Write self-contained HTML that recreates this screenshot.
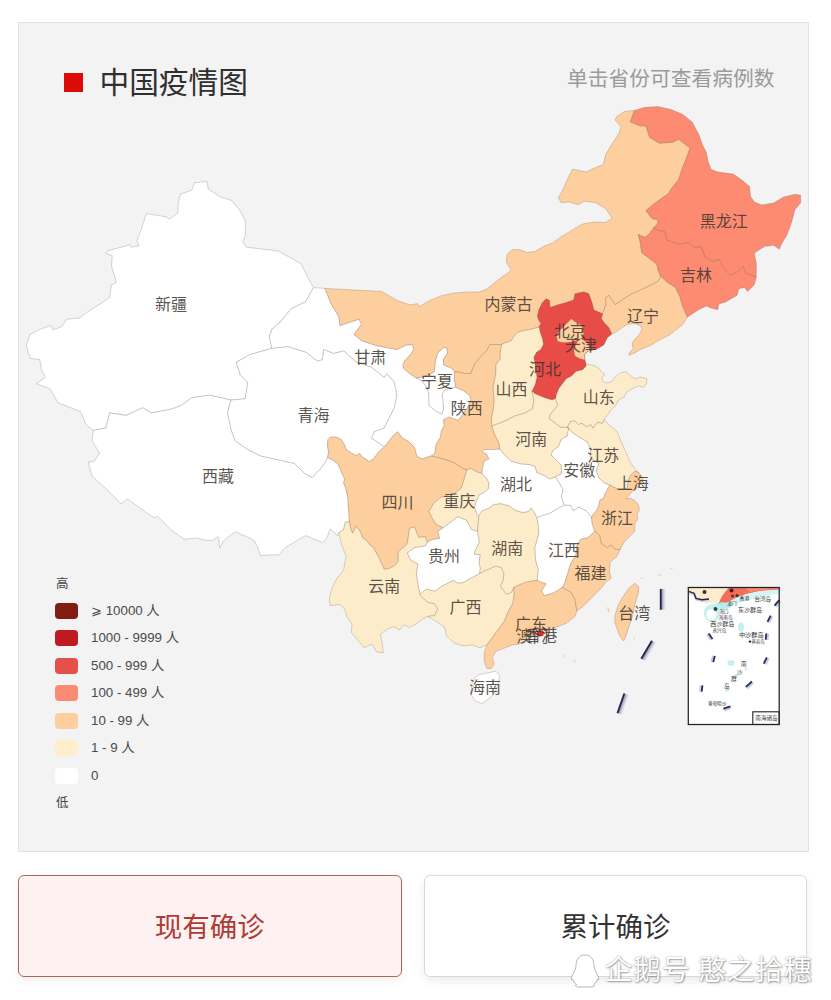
<!DOCTYPE html>
<html lang="zh-CN">
<head>
<meta charset="utf-8">
<title>中国疫情图</title>
<style>
html,body{margin:0;padding:0;background:#fff;}
body{width:831px;height:1000px;position:relative;overflow:hidden;font-family:"Liberation Sans","Noto Sans CJK SC",sans-serif;color:#333;}
.card{position:absolute;left:18px;top:22px;width:789px;height:827.5px;background:#f3f3f3;border:1.2px solid #e2e2e2;box-sizing:content-box;}
.sq{position:absolute;left:64px;top:73px;width:19px;height:18.5px;background:#dd0a0a;}
.title{position:absolute;left:99.5px;top:63px;font-size:29.7px;line-height:40px;color:#2f2f2f;letter-spacing:0;white-space:nowrap;}
.sub{position:absolute;left:567px;top:64px;font-size:20.75px;line-height:30px;color:#9a9a9a;white-space:nowrap;}
svg.map{position:absolute;left:0;top:0;width:831px;height:1000px;}
svg.map .prov path{stroke:rgba(85,55,35,0.3);stroke-width:0.7;stroke-linejoin:round;}
svg.map .lab text{font-family:"Liberation Sans","Noto Sans CJK SC",sans-serif;font-size:16px;fill:#3d3630;fill-opacity:0.86;text-anchor:middle;dominant-baseline:central;}
.legend{position:absolute;left:55px;top:575.3px;font-size:13.5px;color:#444;}
.legend .hl{position:absolute;left:1px;font-size:12.5px;line-height:16px;color:#444;white-space:nowrap;}
.legend .row{position:absolute;left:0;height:16px;white-space:nowrap;}
.legend .sw{position:absolute;left:0;top:0;width:23px;height:16px;border-radius:4px;}
.legend .tx{position:absolute;left:36px;top:-2px;line-height:20px;font-size:13.3px;color:#4a4a4a;}
.btn{position:absolute;top:875px;height:99.5px;border-radius:6px;box-sizing:content-box;text-align:center;font-size:27.5px;line-height:103.5px;}
.b1{left:18px;width:381.5px;border:1px solid #ab675c;background:#fdf2f1;color:#b03a33;box-shadow:0 4px 10px rgba(0,0,0,0.06);}
.b2{left:424.3px;width:380.5px;border:1px solid #d9d9d9;background:#fff;color:#333;box-shadow:0 4px 10px rgba(0,0,0,0.08);}
.wm{position:absolute;left:604.5px;top:952.7px;font-size:28px;line-height:36px;color:#fff;white-space:nowrap;text-shadow:0 0 1.5px rgba(0,0,0,0.42),1px 1px 2px rgba(0,0,0,0.32);letter-spacing:0.5px;}
</style>
</head>
<body>
<div class="card"></div>
<div class="sq"></div>
<div class="title">中国疫情图</div>
<div class="sub">单击省份可查看病例数</div>

<svg class="map" viewBox="0 0 831 1000">
<g class="prov">
<path d="M93.3 430.5 L85.7 424.2 L80.7 411.6 L57.9 402.7 L50.3 388.8 L36.4 383.7 L45.3 377.3 L41.5 369.8 L39.7 359.6 L30.1 358.4 L26.3 345.7 L30.1 334.4 L40.2 329.3 L50.8 325.5 L52.9 329.8 L61.7 326.8 L66.8 319.2 L79.4 318.0 L88.2 311.6 L109.7 297.7 L111.5 285.1 L116.0 282.6 L115.5 278.8 L111.5 266.1 L112.2 255.5 L105.9 253.5 L107.2 251.0 L130.0 244.7 L131.2 247.2 L139.3 245.9 L136.8 240.9 L140.8 230.8 L146.4 213.6 L166.6 216.9 L169.1 219.4 L178.0 213.0 L178.0 204.2 L180.5 194.1 L191.8 190.3 L194.4 182.7 L207.0 181.5 L208.3 189.0 L219.6 196.6 L231.4 200.4 L239.0 209.3 L245.3 220.7 L245.3 235.8 L242.7 242.1 L246.5 247.2 L278.1 251.0 L300.9 263.6 L308.5 278.8 L313.5 287.6 L305.9 301.5 L290.8 309.1 L280.7 321.7 L271.8 329.3 L269.3 336.9 L271.8 348.3 L250.3 354.6 L236.4 362.2 L240.2 374.8 L247.8 382.4 L245.3 398.8 L231.0 400.0 L220.0 397.5 L209.5 395.2 L191.8 397.7 L181.7 405.3 L171.6 409.1 L151.4 412.9 L142.6 407.8 L126.1 415.4 L109.7 412.9 L105.9 428.0Z" fill="#ffffff"/>
<path d="M93.3 430.5 L105.9 428.0 L109.7 412.9 L126.1 415.4 L142.6 407.8 L151.4 412.9 L171.6 409.1 L181.7 405.3 L191.8 397.7 L209.5 395.2 L220.0 397.5 L231.0 400.0 L227.6 412.9 L231.4 430.5 L235.2 440.7 L247.8 449.5 L260.4 455.8 L283.2 460.9 L294.6 463.4 L304.7 473.5 L312.2 477.3 L314.8 474.4 L319.6 469.6 L324.4 463.6 L327.6 457.5 L332.8 460.0 L337.6 463.6 L340.0 468.4 L342.4 474.4 L344.8 479.2 L343.6 482.8 L346.0 488.8 L347.8 497.2 L348.4 506.8 L349.0 514.0 L349.3 521.8 L345.4 522.2 L343.6 529.6 L338.8 532.9 L337.5 535.8 L334.8 532.7 L330.0 528.9 L327.1 537.5 L322.3 542.4 L315.5 539.5 L305.9 535.6 L300.1 538.5 L292.4 543.3 L284.7 548.1 L278.9 554.9 L267.4 554.9 L260.6 555.8 L257.8 548.1 L254.9 541.4 L249.1 537.5 L241.4 534.7 L236.6 531.8 L230.8 534.7 L223.1 541.4 L219.8 548.1 L218.3 536.6 L212.0 540.5 L204.0 540.0 L196.9 537.9 L184.3 539.2 L171.6 530.4 L157.7 516.5 L153.9 517.7 L141.3 508.9 L127.4 498.8 L121.1 503.8 L105.9 488.7 L92.0 476.0 L88.2 462.1 L94.6 460.9 L99.6 453.3 L92.0 440.7Z" fill="#ffffff"/>
<path d="M231.0 400.0 L245.3 398.8 L247.8 382.4 L240.2 374.8 L236.4 362.2 L250.3 354.6 L271.8 348.3 L288.2 346.5 L305.9 352.1 L317.3 360.9 L322.3 359.6 L323.6 349.5 L333.7 353.3 L343.8 350.8 L356.5 362.2 L371.6 367.2 L384.3 377.3 L386.8 373.5 L394.4 382.0 L396.9 395.2 L394.4 407.8 L388.1 420.4 L384.3 428.0 L374.2 431.8 L371.6 438.1 L379.2 443.2 L384.3 447.0 L383.2 448.0 L379.6 451.0 L377.2 454.0 L373.6 458.8 L368.8 461.8 L366.4 459.4 L362.8 457.6 L359.2 453.4 L356.8 455.8 L350.8 452.8 L346.0 449.2 L344.2 444.4 L341.2 439.6 L336.4 437.2 L330.4 437.2 L328.0 439.6 L327.4 445.6 L328.6 451.6 L327.6 457.5 L324.4 463.6 L319.6 469.6 L314.8 474.4 L312.2 477.3 L304.7 473.5 L294.6 463.4 L283.2 460.9 L260.4 455.8 L247.8 449.5 L235.2 440.7 L231.4 430.5 L227.6 412.9Z" fill="#ffffff"/>
<path d="M313.5 287.6 L324.9 288.4 L331.2 304.0 L338.8 316.7 L340.0 325.5 L351.4 321.7 L359.0 319.2 L361.5 324.3 L353.9 334.4 L361.5 340.7 L376.7 345.7 L396.9 349.5 L405.8 345.2 L412.3 344.5 L413.8 348.8 L411.6 353.2 L405.1 360.4 L402.9 364.8 L403.6 368.4 L408.7 372.8 L415.9 377.8 L421.0 380.0 L427.5 388.0 L429.0 395.2 L429.0 405.4 L436.2 411.2 L442.0 414.0 L443.5 409.0 L442.7 399.6 L442.0 394.0 L445.0 389.5 L455.8 387.2 L463.8 390.9 L469.6 395.2 L471.0 399.6 L468.1 406.8 L460.9 417.0 L458.0 420.6 L449.3 417.0 L443.5 419.9 L444.2 425.7 L441.3 431.4 L440.6 437.2 L436.2 444.5 L434.8 453.2 L431.2 456.1 L421.7 459.0 L416.7 456.1 L414.5 447.4 L408.7 441.6 L402.0 437.8 L397.6 431.8 L392.8 436.0 L388.8 441.5 L384.3 447.0 L379.2 443.2 L371.6 438.1 L374.2 431.8 L384.3 428.0 L388.1 420.4 L394.4 407.8 L396.9 395.2 L394.4 382.0 L386.8 373.5 L384.3 377.3 L371.6 367.2 L356.5 362.2 L343.8 350.8 L333.7 353.3 L323.6 349.5 L322.3 359.6 L317.3 360.9 L305.9 352.1 L288.2 346.5 L271.8 348.3 L269.3 336.9 L271.8 329.3 L280.7 321.7 L290.8 309.1 L305.9 301.5Z" fill="#ffffff"/>
<path d="M415.9 377.8 L421.7 377.1 L429.0 374.9 L434.1 372.0 L435.5 360.4 L437.7 353.2 L443.5 347.4 L447.1 348.1 L447.5 353.2 L443.5 359.0 L443.5 364.8 L450.7 367.7 L454.8 372.0 L454.3 377.8 L455.8 387.2 L445.0 389.5 L442.0 394.0 L442.7 399.6 L443.5 409.0 L442.0 414.0 L436.2 411.2 L429.0 405.4 L429.0 395.2 L427.5 388.0 L421.0 380.0Z" fill="#ffffff"/>
<path d="M324.9 288.4 L356.5 290.1 L381.7 291.4 L396.9 300.3 L410.0 305.0 L417.7 303.6 L419.6 306.5 L429.3 300.7 L440.8 295.9 L454.3 293.0 L467.8 292.0 L479.3 292.0 L487.0 289.1 L494.7 282.4 L502.4 276.6 L508.2 272.8 L511.1 269.9 L506.3 262.2 L507.2 254.5 L512.0 249.7 L519.7 249.7 L527.4 252.5 L535.1 251.6 L544.8 245.8 L552.5 242.9 L562.1 236.2 L572.7 229.8 L582.4 224.0 L593.9 222.1 L605.5 222.4 L612.2 218.2 L605.5 208.6 L595.8 202.8 L584.3 201.2 L578.5 204.7 L568.9 201.9 L561.2 202.8 L558.3 198.0 L563.1 189.3 L568.9 175.9 L572.7 169.1 L586.2 172.0 L590.1 170.1 L603.5 164.3 L605.5 154.7 L611.2 145.1 L618.9 133.5 L620.9 126.8 L615.1 120.0 L617.0 116.2 L624.7 111.4 L634.3 110.4 L630.5 122.0 L640.1 125.8 L645.9 125.8 L649.7 137.4 L659.4 143.1 L672.8 142.2 L678.6 139.3 L690.2 147.9 L686.3 158.5 L682.5 168.2 L678.6 179.7 L670.9 189.3 L669.0 193.2 L655.5 202.8 L645.9 210.5 L651.7 218.2 L658.4 220.1 L657.4 224.0 L653.6 227.9 L649.7 233.6 L644.9 237.5 L638.2 234.6 L640.1 241.3 L641.7 252.6 L650.5 259.2 L656.9 264.3 L658.5 271.0 L660.7 276.5 L657.9 281.6 L652.1 284.4 L643.4 288.8 L633.3 293.1 L624.7 298.2 L615.3 304.7 L608.8 295.3 L605.9 297.4 L605.9 304.7 L602.5 313.8 L593.8 310.0 L591.9 302.5 L588.8 293.8 L583.8 291.9 L575.0 293.8 L573.8 300.0 L566.3 302.5 L557.5 305.0 L550.0 307.5 L549.4 300.6 L546.3 298.8 L542.5 302.5 L538.8 310.0 L537.5 316.3 L538.8 320.0 L541.0 323.6 L539.0 327.0 L532.6 329.0 L522.9 330.8 L518.1 332.0 L514.5 335.6 L510.9 341.1 L504.9 342.9 L501.4 344.5 L489.9 344.5 L487.0 350.3 L481.2 356.1 L475.4 363.3 L472.5 369.1 L471.0 373.5 L463.8 373.5 L458.0 372.0 L454.8 372.0 L450.7 367.7 L443.5 364.8 L443.5 359.0 L447.5 353.2 L447.1 348.1 L443.5 347.4 L437.7 353.2 L435.5 360.4 L434.1 372.0 L429.0 374.9 L421.7 377.1 L415.9 377.8 L408.7 372.8 L403.6 368.4 L402.9 364.8 L405.1 360.4 L411.6 353.2 L413.8 348.8 L412.3 344.5 L405.8 345.2 L396.9 349.5 L376.7 345.7 L361.5 340.7 L353.9 334.4 L361.5 324.3 L359.0 319.2 L351.4 321.7 L340.0 325.5 L338.8 316.7 L331.2 304.0Z" fill="#fdcf9f"/>
<path d="M634.3 110.4 L644.0 107.5 L657.4 106.6 L670.9 109.4 L682.5 114.3 L692.1 122.0 L698.6 134.0 L703.0 146.0 L706.2 152.0 L708.1 161.6 L711.0 169.3 L717.8 172.1 L733.2 174.1 L742.8 180.8 L749.5 186.6 L750.5 196.2 L754.3 202.0 L762.0 204.9 L773.6 202.9 L783.2 197.2 L794.8 194.3 L800.6 195.2 L800.6 202.9 L794.8 209.7 L791.9 221.2 L787.1 234.7 L781.3 244.3 L779.4 249.2 L773.6 245.3 L764.9 246.3 L754.3 253.0 L756.3 263.6 L756.3 277.1 L745.7 273.2 L742.8 266.5 L737.7 271.8 L730.1 275.6 L723.8 268.1 L718.8 259.2 L712.5 261.7 L704.9 256.7 L701.1 246.6 L694.8 247.8 L688.5 242.8 L678.3 244.0 L667.0 240.3 L664.4 231.4 L658.0 230.5 L653.6 227.9 L657.4 224.0 L658.4 220.1 L651.7 218.2 L645.9 210.5 L655.5 202.8 L669.0 193.2 L670.9 189.3 L678.6 179.7 L682.5 168.2 L686.3 158.5 L690.2 147.9 L678.6 139.3 L672.8 142.2 L659.4 143.1 L649.7 137.4 L645.9 125.8 L640.1 125.8 L630.5 122.0Z" fill="#fc8b72"/>
<path d="M653.6 227.9 L658.0 230.5 L664.4 231.4 L667.0 240.3 L678.3 244.0 L688.5 242.8 L694.8 247.8 L701.1 246.6 L704.9 256.7 L712.5 261.7 L718.8 259.2 L723.8 268.1 L730.1 275.6 L737.7 271.8 L742.8 266.5 L745.7 273.2 L756.3 277.1 L754.3 284.8 L747.6 291.5 L744.7 287.7 L738.9 288.6 L737.0 295.4 L725.5 302.1 L718.7 304.0 L717.8 309.8 L711.0 307.9 L706.2 305.9 L698.5 309.8 L687.2 317.3 L684.7 311.5 L682.4 306.1 L679.5 296.0 L675.2 287.3 L668.0 283.0 L660.7 276.5 L658.5 271.0 L656.9 264.3 L650.5 259.2 L641.7 252.6 L640.1 241.3 L638.2 234.6 L644.9 237.5 L649.7 233.6Z" fill="#fc8b72"/>
<path d="M660.7 276.5 L668.0 283.0 L675.2 287.3 L679.5 296.0 L682.4 306.1 L684.7 311.5 L687.2 317.3 L682.4 324.9 L675.2 330.6 L669.4 335.0 L660.8 339.3 L653.5 343.6 L647.8 346.5 L640.5 349.4 L634.8 353.0 L629.0 355.2 L629.7 352.3 L633.3 348.7 L631.9 343.6 L634.8 339.3 L639.1 335.0 L642.0 329.2 L640.5 325.6 L634.8 323.4 L627.5 324.2 L621.8 327.8 L616.0 332.1 L612.0 334.0 L611.3 333.0 L608.8 327.5 L605.0 323.8 L601.3 318.8 L602.5 313.8 L605.9 304.7 L605.9 297.4 L608.8 295.3 L615.3 304.7 L624.7 298.2 L633.3 293.1 L643.4 288.8 L652.1 284.4 L657.9 281.6Z" fill="#fdcf9f"/>
<path d="M539.0 327.0 L541.0 323.6 L538.8 320.0 L537.5 316.3 L538.8 310.0 L542.5 302.5 L546.3 298.8 L549.4 300.6 L550.0 307.5 L557.5 305.0 L566.3 302.5 L573.8 300.0 L575.0 293.8 L583.8 291.9 L588.8 293.8 L591.9 302.5 L593.8 310.0 L602.5 313.8 L601.3 318.8 L605.0 323.8 L608.8 327.5 L611.3 333.0 L612.0 334.0 L607.5 337.5 L603.8 345.0 L597.5 348.8 L592.5 350.0 L587.5 351.3 L584.4 355.0 L585.0 360.0 L586.0 364.0 L586.3 366.0 L582.5 370.0 L576.3 371.3 L571.3 376.3 L566.3 378.8 L562.5 383.8 L558.8 388.8 L556.3 395.0 L555.6 398.8 L551.9 400.0 L543.8 397.5 L535.0 393.8 L531.9 391.3 L535.0 385.0 L536.8 377.8 L535.6 368.1 L533.8 357.3 L536.2 352.5 L541.0 348.9 L543.4 344.1 L542.2 338.1 L540.4 333.2Z" fill="#e84c46"/>
<path d="M501.4 344.5 L504.9 342.9 L510.9 341.1 L514.5 335.6 L518.1 332.0 L522.9 330.8 L532.6 329.0 L539.0 327.0 L540.4 333.2 L542.2 338.1 L543.4 344.1 L541.0 348.9 L536.2 352.5 L533.8 357.3 L535.6 368.1 L536.8 377.8 L535.0 385.0 L531.9 391.3 L533.9 400.0 L532.5 408.7 L525.2 413.0 L515.1 415.9 L503.5 421.7 L491.9 426.1 L491.2 418.8 L493.3 408.7 L494.1 400.0 L492.8 388.0 L495.7 373.5 L495.7 364.8 L500.0 359.0 L500.0 353.2Z" fill="#fdecca"/>
<path d="M454.8 372.0 L458.0 372.0 L463.8 373.5 L471.0 373.5 L472.5 369.1 L475.4 363.3 L481.2 356.1 L487.0 350.3 L489.9 344.5 L501.4 344.5 L500.0 353.2 L500.0 359.0 L495.7 364.8 L495.7 373.5 L492.8 388.0 L494.1 400.0 L493.3 408.7 L491.2 418.8 L491.9 426.1 L494.8 434.8 L499.1 443.5 L499.9 449.3 L491.9 449.6 L484.2 449.5 L482.4 451.7 L486.6 454.1 L489.0 458.9 L484.2 461.3 L483.0 466.1 L481.8 473.3 L477.0 472.1 L471.0 468.5 L467.2 469.6 L463.8 469.1 L455.1 463.3 L447.8 460.4 L437.7 457.5 L431.2 456.1 L434.8 453.2 L436.2 444.5 L440.6 437.2 L441.3 431.4 L444.2 425.7 L443.5 419.9 L449.3 417.0 L458.0 420.6 L460.9 417.0 L468.1 406.8 L471.0 399.6 L469.6 395.2 L463.8 390.9 L455.8 387.2 L454.3 377.8Z" fill="#fdcf9f"/>
<path d="M431.2 456.1 L437.7 457.5 L447.8 460.4 L455.1 463.3 L463.8 469.1 L467.2 469.6 L466.0 473.0 L464.0 480.0 L461.4 488.1 L454.2 493.5 L441.5 497.1 L434.3 502.5 L428.9 511.5 L431.6 516.9 L436.1 524.2 L443.3 527.8 L437.9 531.4 L439.7 538.6 L432.5 539.5 L427.1 542.2 L425.3 536.8 L418.5 537.5 L414.5 527.0 L409.5 528.5 L408.1 538.6 L407.0 544.3 L398.2 551.8 L398.3 561.5 L394.1 566.0 L389.1 568.6 L384.0 569.3 L380.0 560.0 L372.9 546.8 L370.0 545.2 L366.4 540.4 L362.8 538.0 L360.4 532.0 L356.2 526.0 L352.6 533.2 L350.8 529.6 L349.3 521.8 L349.0 514.0 L348.4 506.8 L347.8 497.2 L346.0 488.8 L343.6 482.8 L344.8 479.2 L342.4 474.4 L340.0 468.4 L337.6 463.6 L332.8 460.0 L327.6 457.5 L328.6 451.6 L327.4 445.6 L328.0 439.6 L330.4 437.2 L336.4 437.2 L341.2 439.6 L344.2 444.4 L346.0 449.2 L350.8 452.8 L356.8 455.8 L359.2 453.4 L362.8 457.6 L366.4 459.4 L368.8 461.8 L373.6 458.8 L377.2 454.0 L379.6 451.0 L383.2 448.0 L384.3 447.0 L388.8 441.5 L392.8 436.0 L397.6 431.8 L402.0 437.8 L408.7 441.6 L414.5 447.4 L416.7 456.1 L421.7 459.0Z" fill="#fdcf9f"/>
<path d="M443.3 527.8 L436.1 524.2 L431.6 516.9 L428.9 511.5 L434.3 502.5 L441.5 497.1 L454.2 493.5 L461.4 488.1 L464.0 480.0 L466.0 473.0 L467.2 469.6 L471.0 468.5 L477.0 472.1 L481.8 473.3 L486.6 478.1 L489.0 482.9 L488.4 489.0 L484.2 492.6 L479.4 495.0 L477.0 499.8 L474.6 507.0 L477.0 514.2 L478.8 515.9 L477.6 531.4 L471.3 529.6 L466.8 520.5 L457.8 516.9 L450.5 522.3Z" fill="#fdecca"/>
<path d="M443.3 527.8 L450.5 522.3 L457.8 516.9 L466.8 520.5 L471.3 529.6 L477.6 531.4 L479.4 542.2 L475.8 549.4 L474.0 553.9 L480.3 554.8 L479.2 563.0 L480.4 568.0 L479.7 573.5 L475.1 576.1 L469.3 579.0 L463.5 582.6 L457.8 583.3 L453.4 580.4 L447.7 583.3 L441.9 586.2 L434.7 591.3 L426.0 589.1 L419.9 594.5 L418.1 585.5 L416.2 572.9 L418.1 563.9 L410.8 560.3 L407.2 553.0 L414.4 547.6 L425.3 545.8 L427.1 542.2 L432.5 539.5 L439.7 538.6 L437.9 531.4Z" fill="#ffffff"/>
<path d="M349.3 521.8 L350.8 529.6 L352.6 533.2 L356.2 526.0 L360.4 532.0 L362.8 538.0 L366.4 540.4 L370.0 545.2 L372.9 546.8 L380.0 560.0 L384.0 569.3 L389.1 568.6 L394.1 566.0 L398.3 561.5 L398.2 551.8 L407.0 544.3 L408.1 538.6 L409.5 528.5 L414.5 527.0 L418.5 537.5 L425.3 536.8 L427.1 542.2 L425.3 545.8 L414.4 547.6 L407.2 553.0 L410.8 560.3 L418.1 563.9 L416.2 572.9 L418.1 585.5 L419.9 594.5 L422.8 597.9 L427.8 602.1 L434.6 603.8 L437.9 608.9 L434.6 615.6 L427.8 616.4 L422.8 619.0 L416.0 624.0 L409.3 627.4 L404.2 624.9 L399.2 629.9 L394.1 626.5 L387.4 629.1 L380.6 634.1 L382.3 644.2 L383.2 652.7 L376.4 651.8 L372.2 644.2 L363.8 647.6 L357.1 639.2 L351.2 632.4 L352.0 624.0 L347.0 617.3 L344.4 608.9 L340.2 604.6 L330.1 605.5 L329.3 598.7 L331.8 588.6 L336.8 578.5 L343.6 570.1 L345.3 560.0 L346.4 556.9 L341.3 544.3 L338.8 532.9 L343.6 529.6 L345.4 522.2Z" fill="#fdecca"/>
<path d="M427.8 616.4 L434.6 615.6 L437.9 608.9 L434.6 603.8 L427.8 602.1 L422.8 597.9 L419.9 594.5 L426.0 589.1 L434.7 591.3 L441.9 586.2 L447.7 583.3 L453.4 580.4 L457.8 583.3 L463.5 582.6 L469.3 579.0 L475.1 576.1 L479.7 573.5 L485.2 570.3 L489.5 568.9 L495.3 566.0 L501.1 567.4 L504.0 573.2 L503.2 580.4 L500.4 586.2 L506.5 594.2 L511.5 592.4 L513.7 587.3 L514.3 594.4 L512.8 603.5 L507.8 612.5 L504.4 621.3 L499.0 628.3 L492.8 637.0 L486.9 645.0 L479.7 647.7 L472.5 645.0 L463.5 645.9 L454.4 643.2 L446.3 635.8 L444.7 627.4 L437.9 622.3 L432.0 619.0Z" fill="#fdecca"/>
<path d="M486.9 645.0 L492.8 637.0 L499.0 628.3 L504.4 621.3 L507.8 612.5 L512.8 603.5 L514.3 594.4 L513.7 587.3 L517.3 585.5 L526.4 581.9 L537.2 580.1 L540.8 581.9 L546.2 583.7 L541.7 590.9 L544.4 595.5 L553.5 592.7 L562.5 587.3 L571.5 592.7 L575.1 600.0 L576.9 610.8 L575.4 616.1 L566.4 623.3 L557.3 626.9 L548.3 630.5 L542.9 634.2 L533.9 636.0 L526.6 639.6 L519.4 644.1 L512.2 645.0 L503.2 648.6 L496.0 651.3 L492.3 657.6 L494.2 663.9 L491.4 668.4 L486.9 668.4 L484.2 661.2 L484.2 652.2Z" fill="#fdcf9f"/>
<path d="M536.8 517.4 L533.9 511.6 L531.0 508.0 L528.1 511.6 L522.3 512.3 L515.1 510.1 L509.3 505.8 L500.6 503.6 L494.1 504.3 L489.0 508.0 L481.7 510.9 L478.8 515.9 L477.6 531.4 L479.4 542.2 L475.8 549.4 L474.0 553.9 L480.3 554.8 L479.2 563.0 L480.4 568.0 L479.7 573.5 L485.2 570.3 L489.5 568.9 L495.3 566.0 L501.1 567.4 L504.0 573.2 L503.2 580.4 L500.4 586.2 L506.5 594.2 L511.5 592.4 L513.7 587.3 L517.3 585.5 L526.4 581.9 L537.2 580.1 L538.5 570.0 L535.5 559.5 L535.0 547.6 L539.0 533.0 L538.0 522.0Z" fill="#fdecca"/>
<path d="M536.8 517.4 L538.0 522.0 L539.0 533.0 L535.0 547.6 L535.5 559.5 L538.5 570.0 L537.2 580.1 L540.8 581.9 L546.2 583.7 L541.7 590.9 L544.4 595.5 L553.5 592.7 L562.5 587.3 L565.2 581.9 L567.9 572.9 L570.6 563.9 L576.0 554.8 L576.9 545.8 L580.5 539.5 L587.8 537.7 L595.0 531.4 L592.3 524.2 L591.4 516.9 L586.0 510.6 L578.7 507.0 L573.3 510.6 L570.6 505.2 L564.3 505.0 L557.5 508.7 L549.0 513.5 L541.2 515.9Z" fill="#ffffff"/>
<path d="M481.8 473.3 L483.0 466.1 L484.2 461.3 L489.0 458.9 L486.6 454.1 L482.4 451.7 L484.2 449.5 L491.9 449.6 L499.9 449.3 L504.9 455.1 L510.7 460.9 L520.9 463.8 L529.6 464.5 L535.4 466.7 L536.8 472.5 L544.1 475.4 L549.9 479.0 L555.7 476.8 L560.0 484.1 L562.9 489.9 L561.4 497.1 L564.3 505.0 L557.5 508.7 L549.0 513.5 L541.2 515.9 L536.8 517.4 L533.9 511.6 L531.0 508.0 L528.1 511.6 L522.3 512.3 L515.1 510.1 L509.3 505.8 L500.6 503.6 L494.1 504.3 L489.0 508.0 L481.7 510.9 L478.8 515.9 L477.0 514.2 L474.6 507.0 L477.0 499.8 L479.4 495.0 L484.2 492.6 L488.4 489.0 L489.0 482.9 L486.6 478.1Z" fill="#ffffff"/>
<path d="M491.9 426.1 L503.5 421.7 L515.1 415.9 L525.2 413.0 L532.5 408.7 L533.9 400.0 L531.9 391.3 L535.0 393.8 L543.8 397.5 L551.9 400.0 L555.6 398.8 L557.8 405.4 L550.6 414.1 L549.1 418.4 L554.9 422.8 L560.7 427.1 L567.5 427.0 L568.7 429.0 L567.2 436.2 L561.4 439.1 L558.6 446.4 L552.8 450.7 L551.3 455.1 L557.1 460.9 L561.4 465.2 L561.4 473.9 L555.7 476.8 L549.9 479.0 L544.1 475.4 L536.8 472.5 L535.4 466.7 L529.6 464.5 L520.9 463.8 L510.7 460.9 L504.9 455.1 L499.9 449.3 L499.1 443.5 L494.8 434.8Z" fill="#fdecca"/>
<path d="M555.6 398.8 L556.3 395.0 L558.8 388.8 L562.5 383.8 L566.3 378.8 L571.3 376.3 L576.3 371.3 L582.5 370.0 L586.3 366.0 L586.0 364.0 L594.1 365.6 L598.9 368.1 L601.3 371.7 L604.9 374.1 L601.9 377.7 L602.5 381.3 L607.3 383.1 L612.1 381.3 L615.7 376.5 L620.5 372.9 L625.4 371.7 L630.2 375.3 L635.0 378.9 L641.0 377.1 L647.0 378.9 L646.4 383.7 L644.0 387.3 L638.6 386.1 L632.6 388.5 L626.6 392.1 L624.2 396.9 L618.1 400.5 L615.7 405.4 L610.9 410.2 L607.3 415.0 L604.2 419.4 L602.5 423.4 L597.7 422.2 L592.9 428.2 L590.5 424.6 L586.8 427.0 L582.0 423.4 L578.4 424.6 L574.8 421.0 L570.5 421.5 L567.5 427.0 L560.7 427.1 L554.9 422.8 L549.1 418.4 L550.6 414.1 L557.8 405.4Z" fill="#fdecca"/>
<path d="M567.5 427.0 L570.5 421.5 L574.8 421.0 L578.4 424.6 L582.0 423.4 L586.8 427.0 L590.5 424.6 L592.9 428.2 L597.7 422.2 L602.5 423.4 L604.2 419.4 L609.6 425.7 L616.9 431.1 L620.5 440.1 L625.0 450.0 L630.0 462.0 L635.0 469.0 L639.0 473.0 L635.0 471.0 L630.0 476.0 L628.0 482.0 L627.0 489.0 L618.0 489.0 L613.0 487.0 L610.0 485.0 L605.1 483.4 L598.8 478.0 L596.1 470.8 L598.8 463.6 L592.5 460.0 L589.8 456.4 L590.7 449.1 L587.1 441.9 L578.1 436.5 L572.6 432.9Z" fill="#fdecca"/>
<path d="M567.5 427.0 L572.6 432.9 L578.1 436.5 L587.1 441.9 L590.7 449.1 L589.8 456.4 L592.5 460.0 L598.8 463.6 L596.1 470.8 L598.8 478.0 L605.1 483.4 L610.0 485.0 L608.0 488.0 L605.0 494.0 L604.0 498.0 L600.0 500.0 L599.0 505.0 L597.0 510.0 L591.4 516.9 L586.0 510.6 L578.7 507.0 L573.3 510.6 L570.6 505.2 L564.3 505.0 L561.4 497.1 L562.9 489.9 L560.0 484.1 L555.7 476.8 L561.4 473.9 L561.4 465.2 L557.1 460.9 L551.3 455.1 L552.8 450.7 L558.6 446.4 L561.4 439.1 L567.2 436.2 L568.7 429.0Z" fill="#ffffff"/>
<path d="M610.0 485.0 L613.0 487.0 L618.0 489.0 L627.0 489.0 L634.0 490.0 L630.0 494.0 L626.0 499.0 L630.0 498.0 L634.0 500.0 L638.0 504.0 L639.5 510.0 L637.0 514.0 L638.0 519.0 L635.0 523.0 L634.7 531.4 L629.3 536.8 L623.9 542.2 L620.3 549.4 L614.8 549.4 L611.2 544.9 L607.6 547.6 L601.3 544.0 L599.5 535.0 L595.0 531.4 L592.3 524.2 L591.4 516.9 L597.0 510.0 L599.0 505.0 L600.0 500.0 L604.0 498.0 L605.0 494.0 L608.0 488.0Z" fill="#fdcf9f"/>
<path d="M595.0 531.4 L599.5 535.0 L601.3 544.0 L607.6 547.6 L611.2 544.9 L614.8 549.4 L620.3 549.4 L616.6 556.6 L610.3 562.1 L609.4 571.1 L611.2 578.3 L605.8 581.9 L602.2 587.3 L595.0 594.5 L589.6 600.0 L582.3 607.2 L576.9 610.8 L575.1 600.0 L571.5 592.7 L562.5 587.3 L565.2 581.9 L567.9 572.9 L570.6 563.9 L576.0 554.8 L576.9 545.8 L580.5 539.5 L587.8 537.7Z" fill="#fdcf9f"/>
<path d="M627.0 489.0 L628.0 482.0 L630.0 476.0 L635.0 471.0 L639.0 473.0 L643.0 478.0 L641.0 484.0 L636.0 489.0 L634.0 490.0Z" fill="#fdcf9f"/>
<path d="M571.3 318.8 L576.3 322.5 L580.0 323.8 L582.5 327.5 L583.8 333.8 L581.3 338.8 L575.0 341.0 L567.5 342.5 L561.3 342.5 L557.5 341.3 L556.3 336.3 L560.0 330.0 L565.0 325.0 L568.8 321.3Z" fill="#fdcf9f"/>
<path d="M581.3 338.8 L587.5 342.5 L590.0 350.0 L592.5 350.0 L587.5 351.3 L584.4 355.0 L585.0 360.0 L580.0 358.8 L575.0 356.3 L573.8 351.3 L575.0 346.3 L577.5 341.3Z" fill="#fdcf9f"/>
<path d="M478.8 674.8 L486.9 673.0 L496.0 671.2 L499.6 675.7 L497.8 684.7 L494.2 693.7 L486.9 700.0 L481.5 703.6 L475.2 700.9 L471.6 695.5 L471.6 684.7 L474.3 678.4Z" fill="#ffffff"/>
<path d="M635.1 583.2 L638.7 586.8 L638.5 592.0 L637.5 596.0 L635.1 603.7 L632.7 615.7 L629.0 626.6 L625.4 637.4 L623.6 641.0 L620.6 637.4 L617.6 630.2 L614.6 621.7 L615.2 614.5 L618.2 604.9 L623.0 596.5 L629.0 588.0Z" fill="#fdcf9f"/>
<path d="M537.4 631 L542.6 630.4 L543.6 633 L543 636 L538.4 635.8 L537 633.5Z" fill="#de2a2e" stroke="none"/>
</g>
<g class="dash"><defs>
<linearGradient id="dg0" gradientUnits="userSpaceOnUse" x1="660.7" y1="588.9" x2="665.7" y2="588.9"><stop offset="0" stop-color="#6a6e96" stop-opacity="0.95"/><stop offset="1" stop-color="#b9bbd6" stop-opacity="0.1"/></linearGradient>
<linearGradient id="dg1" gradientUnits="userSpaceOnUse" x1="651.9" y1="640.8" x2="656.2" y2="643.3"><stop offset="0" stop-color="#6a6e96" stop-opacity="0.95"/><stop offset="1" stop-color="#b9bbd6" stop-opacity="0.1"/></linearGradient>
<linearGradient id="dg2" gradientUnits="userSpaceOnUse" x1="624.3" y1="693.5" x2="629.0" y2="695.1"><stop offset="0" stop-color="#6a6e96" stop-opacity="0.95"/><stop offset="1" stop-color="#b9bbd6" stop-opacity="0.1"/></linearGradient>
</defs>
<path d="M660.7 588.9 L660.7 609.7 L665.7 609.7 L665.7 588.9Z" fill="url(#dg0)" stroke="none"/><path d="M660.7 588.9 L660.7 609.7" stroke="#23264a" stroke-width="1.8" fill="none"/>
<path d="M651.9 640.8 L641.3 658.7 L645.6 661.2 L656.2 643.3Z" fill="url(#dg1)" stroke="none"/><path d="M651.9 640.8 L641.3 658.7" stroke="#23264a" stroke-width="1.8" fill="none"/>
<path d="M624.3 693.5 L617.5 713.1 L622.2 714.7 L629.0 695.1Z" fill="url(#dg2)" stroke="none"/><path d="M624.3 693.5 L617.5 713.1" stroke="#23264a" stroke-width="1.8" fill="none"/>
<g fill="#e6dcc6" stroke="none"><ellipse cx="659.5" cy="575" rx="2.2" ry="0.9" transform="rotate(15 659.5 575)"/><ellipse cx="671.5" cy="568.5" rx="1.5" ry="0.8"/><ellipse cx="641.7" cy="577.9" rx="1.2" ry="0.8"/><ellipse cx="634" cy="638.6" rx="1" ry="1"/><ellipse cx="563.6" cy="655.8" rx="0.9" ry="1.6"/><ellipse cx="574.5" cy="661.2" rx="1" ry="1.5"/></g>
<path d="M607.6 606.5 L609.2 610 L609.6 613 L608.4 612 L607.4 609Z" fill="#f3c696" stroke="none"/>
</g>
<g class="inset">
<rect x="688.3" y="587.5" width="90.9" height="137" fill="#fff"/>
<path d="M688 587 L729 587 L722 596 L716 603 L706 603.5 L699 602 L696 597 L688 594Z" fill="#fdebcf"/>
<path d="M729 587 L780 587 L780 589.5 L760 591 L746 594 L736 598 L726 603 L718 604 L722 596Z" fill="#f0705a"/>
<path d="M745 587 L780 587 L780 589 L762 590 L750 592Z" fill="#fb8c74"/>
<path d="M718 604.5 L726 603.3 L736 598.3 L746 594.3 L760 591.3 L779 589.8 L779 593.5 L765 596 L750 599.5 L738 603.5 L728 607.5 L720 609.5Z" fill="#bdf0ee" opacity="0.65"/>
<path d="M689 592.2 L694.2 594 L696.3 599.3 L702 600.4 L709 599.6" fill="none" stroke="#c9c9e4" stroke-width="2.6"/>
<path d="M688.6 591.4 L694 593.2 L696 598.5 L702 599.8 L709 599" fill="none" stroke="#23264a" stroke-width="1.4"/>
<g fill="#a8ecea" opacity="0.7">
<ellipse cx="712" cy="613" rx="8" ry="9"/>
<ellipse cx="722" cy="606" rx="9" ry="4"/>
<ellipse cx="741" cy="627" rx="3" ry="4.5"/>
<ellipse cx="731" cy="663" rx="3.5" ry="3"/>
<ellipse cx="736" cy="676" rx="2" ry="2"/>
<ellipse cx="746" cy="669" rx="1.5" ry="1.5"/>
<ellipse cx="727" cy="690" rx="2" ry="1.5"/>
</g>
<ellipse cx="711.5" cy="614.5" rx="5" ry="5.5" fill="#fff"/>
<circle cx="704.5" cy="592" r="2" fill="#3a3520"/>
<circle cx="731.5" cy="590.5" r="2" fill="#4a1a16"/>
<circle cx="732.5" cy="596" r="1.6" fill="#7a2a20"/>
<circle cx="737" cy="595.5" r="1.6" fill="#333"/>
<circle cx="715.5" cy="609" r="2" fill="#1f4a48"/>
<g stroke="#c9c9e4" stroke-width="3.2" fill="none">
<path d="M775.5 606.6 L780 601.1"/><path d="M768.7 622.3 L771.8 616.1"/><path d="M767 639.8 L767.6 633.7"/><path d="M765 664.2 L768 658"/><path d="M746.6 688 L752.8 682.6"/><path d="M723.8 709.8 L730.8 707.5"/><path d="M700.5 691.6 L701.3 685.4"/><path d="M712 662.1 L713.6 655.9"/><path d="M707.5 634 L711.3 639.6"/>
</g>
<g stroke="#2b2f55" stroke-width="1.8" fill="none">
<path d="M774.5 605.6 L779.2 600.1"/><path d="M767.5 621.8 L770.6 615.6"/><path d="M765.7 639.6 L766.3 633.5"/><path d="M763.7 663.7 L766.8 657.5"/><path d="M745.8 686.9 L752 681.5"/><path d="M723.4 708.6 L730.4 706.3"/><path d="M701.7 691.6 L702.5 685.4"/><path d="M713.3 662.1 L714.9 655.9"/><path d="M708.7 633.5 L712.5 638.9"/>
</g>
<g font-family="'Liberation Sans','Noto Sans CJK SC',sans-serif" font-size="4.6" fill="#333">
<text x="719.5" y="613.2">海口</text>
<text x="718.7" y="619.4">海南岛</text>
<text x="710.2" y="626.2" font-size="6">西沙群岛</text>
<text x="712.5" y="631.8">永兴岛</text>
<text x="738" y="612.2" font-size="6">东沙群岛</text>
<text x="754.4" y="600.6" font-size="5.6">台湾岛</text>
<text x="739.6" y="600" font-size="4.8">香港</text>
<text x="727.3" y="604.6" font-size="4.6">澳门</text>
<text x="738.9" y="637" font-size="6.2">中沙群岛</text>
<text x="751.5" y="643.2" font-size="4.4">黄岩岛</text>
<text x="741" y="666" font-size="5.6">南</text>
<text x="737" y="673.6" font-size="5.6">沙</text>
<text x="731" y="680.6" font-size="5.6">群</text>
<text x="724" y="688.2" font-size="5.6">岛</text>
<text x="707.9" y="704.6" font-size="4.6">曾母暗沙</text>
<text x="755.3" y="720.4" font-size="5.6">南海诸岛</text>
</g>
<circle cx="750" cy="641.6" r="1.2" fill="#222"/>
<rect x="752.8" y="711.8" width="26.4" height="12.7" fill="none" stroke="#222" stroke-width="1.1"/>
<rect x="688.3" y="587.5" width="90.9" height="137" fill="none" stroke="#222" stroke-width="1.25"/>
</g>
<g class="lab">
<text x="171.0" y="304.5">新疆</text>
<text x="218.0" y="476.3">西藏</text>
<text x="313.5" y="415.4">青海</text>
<text x="370.3" y="357.0">甘肃</text>
<text x="508.5" y="304.7">内蒙古</text>
<text x="723.8" y="221.3">黑龙江</text>
<text x="696.0" y="275.6">吉林</text>
<text x="643.0" y="316.7">辽宁</text>
<text x="569.7" y="331.2">北京</text>
<text x="581.0" y="345.0">天津</text>
<text x="545.0" y="369.0">河北</text>
<text x="511.6" y="389.3">山西</text>
<text x="598.8" y="397.0">山东</text>
<text x="437.0" y="381.7">宁夏</text>
<text x="466.7" y="408.4">陕西</text>
<text x="531.2" y="439.4">河南</text>
<text x="603.2" y="455.2">江苏</text>
<text x="579.2" y="470.3">安徽</text>
<text x="516.0" y="484.2">湖北</text>
<text x="459.2" y="501.0">重庆</text>
<text x="397.5" y="502.0">四川</text>
<text x="632.7" y="483.4">上海</text>
<text x="617.0" y="518.5">浙江</text>
<text x="507.2" y="548.5">湖南</text>
<text x="564.0" y="550.2">江西</text>
<text x="444.0" y="556.0">贵州</text>
<text x="590.5" y="573.6">福建</text>
<text x="384.3" y="586.0">云南</text>
<text x="465.5" y="607.8">广西</text>
<text x="634.3" y="613.5">台湾</text>
<text x="531.0" y="624.5">广东</text>
<text x="532.5" y="636.0">澳门</text>
<text x="541.3" y="635.5">香港</text>
<text x="485.1" y="687.4">海南</text>
</g>
</svg>

<div class="legend">
<div class="hl" style="top:1px">高</div>
<div class="row" style="top:27.5px"><span class="sw" style="background:#811c12"></span><span class="tx">⩾ 10000 人</span></div>
<div class="row" style="top:55px"><span class="sw" style="background:#bf1a1f"></span><span class="tx">1000 - 9999 人</span></div>
<div class="row" style="top:82.5px"><span class="sw" style="background:#e6504b"></span><span class="tx">500 - 999 人</span></div>
<div class="row" style="top:110px"><span class="sw" style="background:#fb8c74"></span><span class="tx">100 - 499 人</span></div>
<div class="row" style="top:137.5px"><span class="sw" style="background:#fdcf9f"></span><span class="tx">10 - 99 人</span></div>
<div class="row" style="top:165px"><span class="sw" style="background:#fdeecd"></span><span class="tx">1 - 9 人</span></div>
<div class="row" style="top:192.5px"><span class="sw" style="background:#ffffff"></span><span class="tx">0</span></div>
<div class="hl" style="top:220px">低</div>
</div>

<div class="btn b1">现有确诊</div>
<div class="btn b2">累计确诊</div>

<svg style="position:absolute;left:568px;top:952px" width="34" height="36" viewBox="0 0 34 36">
<path d="M17 3 C10.5 3 8 8.5 8 14 C8 17 6 20 4 24 C2.5 27 3.5 28.5 5 27.5 C5.5 30 7 31.5 8.5 32.5 C6.5 33.5 7.5 35 12 35 L22 35 C26.5 35 27.5 33.5 25.5 32.5 C27 31.5 28.5 30 29 27.5 C30.5 28.5 31.5 27 30 24 C28 20 26 17 26 14 C26 8.5 23.500 3 17 3Z" fill="#fff" stroke="rgba(0,0,0,0.28)" stroke-width="1"/>
</svg>
<div class="wm">企鹅号 憨之拾穗</div>
</body>
</html>
